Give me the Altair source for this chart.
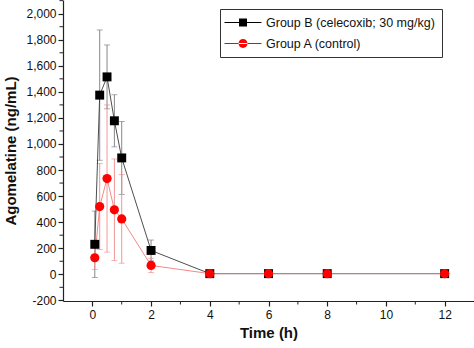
import altair as alt
import pandas as pd

# ---- data ----
times = [0.083, 0.25, 0.5, 0.75, 1, 2, 4, 6, 8, 12]
b_mean = [230, 1375, 1515, 1178, 893, 183, 5, 5, 5, 5]
b_sd = [255, 500, 245, 200, 280, 80, 3, 2, 2, 2]
a_mean = [127, 520, 735, 495, 425, 68, 5, 5, 5, 5]
a_sd = [90, 330, 565, 390, 340, 55, 3, 2, 2, 2]
series_names = ["Group B (celecoxib; 30 mg/kg)", "Group A (control)"]
y_ticks = list(range(-200, 2001, 200))
y_minor = list(range(-100, 2101, 200))
x_ticks = [0, 2, 4, 6, 8, 10, 12]
x_minor = [1, 3, 5, 7, 9, 11]

rows = []
for name, m, s in [(series_names[0], b_mean, b_sd), (series_names[1], a_mean, a_sd)]:
    for t, mv, sv in zip(times, m, s):
        rows.append({"series": name, "t": t, "v": mv, "lo": mv - sv, "hi": mv + sv})
df = pd.DataFrame(rows)
dfB = df[df.series == series_names[0]]
dfA = df[df.series == series_names[1]]

FONT = "Liberation Sans"
xs = alt.Scale(domain=[-1, 13], nice=False, zero=False)
ys = alt.Scale(domain=[-205, 2105], nice=False, zero=False)
xaxis = alt.Axis(values=x_ticks, title="Time (h)", grid=False, tickSize=5,
                 labelPadding=3, titlePadding=5, format="d")
yaxis = alt.Axis(values=y_ticks, title="Agomelatine (ng/mL)", grid=False, tickSize=5,
                 labelPadding=2, titlePadding=7,
                 labelExpr="replace(format(datum.value, ','), '\u2212', '-')")

def X(f="t"):
    return alt.X(f, type="quantitative", scale=xs, axis=xaxis, title="Time (h)")

def Y(f="v"):
    return alt.Y(f, type="quantitative", scale=ys, axis=yaxis, title="Agomelatine (ng/mL)")

BLK_LINE = "#3a3a3a"
BLK_ERR = "#7a7a7a"
RED_LINE = "#f27a7a"
RED_ERR = "#f08a8a"

def err(d, color):
    rule = alt.Chart(d).mark_rule(color=color, strokeWidth=0.9).encode(
        x=X(), y=Y("lo"), y2="hi")
    caps = alt.Chart(d).transform_fold(["lo", "hi"], as_=["k", "v"]).mark_tick(
        orient="horizontal", color=color, size=6, thickness=0.9).encode(x=X(), y=Y("v"))
    return rule + caps

errB = err(dfB, BLK_ERR)
errA = err(dfA, RED_ERR)
lineB = alt.Chart(dfB).mark_line(color=BLK_LINE, strokeWidth=0.9).encode(x=X(), y=Y())
lineA = alt.Chart(dfA).mark_line(color=RED_LINE, strokeWidth=0.9).encode(x=X(), y=Y())
ptsB = alt.Chart(dfB).mark_point(shape="square", filled=True, color="black", size=80, opacity=1).encode(x=X(), y=Y())
ptsA = alt.Chart(dfA).mark_point(shape="circle", filled=True, color="#ff0000", size=85, opacity=1).encode(x=X(), y=Y())

# legend (symbol paths: line + marker)
pathB = "M-1.29,-0.07H4V0.07H-1.29Z M0.79,-0.57H1.93V0.57H0.79Z"
pathA = "M-1.29,-0.07H4V0.07H-1.29Z M0.72,0A0.64,0.64 0 1,0 2,0A0.64,0.64 0 1,0 0.72,0Z"
leg = alt.Chart(df).transform_filter("false").mark_point(filled=True, opacity=1, size=196).encode(
    x=X(), y=Y(),
    color=alt.Color("series:N", scale=alt.Scale(domain=series_names, range=["#000000", "#ff0000"]),
                    legend=alt.Legend(title=None, orient="none", legendX=157, legendY=9,
                                      strokeColor="#333333", padding=6.5, rowPadding=7,
                                      labelFontSize=12.5, labelFont=FONT, labelColor="#111",
                                      labelOffset=25.5, labelLimit=400, symbolSize=196,
                                      symbolStrokeWidth=0, fillColor="white")),
    shape=alt.Shape("series:N", scale=alt.Scale(domain=series_names, range=[pathB, pathA]), legend=None),
)

# minor ticks
minor_x = alt.Chart(pd.DataFrame({"t": x_minor})).mark_rule(color="#222", strokeWidth=1).encode(
    x=X(), y=alt.value(301), y2=alt.value(304.5))
minor_y = alt.Chart(pd.DataFrame({"v": y_minor})).mark_rule(color="#222", strokeWidth=1).encode(
    y=Y(), x=alt.value(0), x2=alt.value(-3.5))

chart = alt.layer(minor_x, minor_y, errB, errA, lineB, lineA, ptsB, ptsA, leg).properties(
    width=411, height=301,
    autosize=alt.AutoSizeParams(type="none"),
    padding={"left": 63, "top": 0, "right": 0, "bottom": 47},
).configure_view(stroke=None).configure_axis(
    domainColor="#222", tickColor="#222", labelColor="#111", labelFont=FONT,
    labelFontSize=12, titleFont=FONT, titleFontSize=15, titleFontWeight="bold",
    titleColor="#111", domainWidth=1.2, tickWidth=1.2,
).configure_legend(symbolType="circle")

chart.save("out.html", embed_options={"renderer": "svg", "actions": False})
